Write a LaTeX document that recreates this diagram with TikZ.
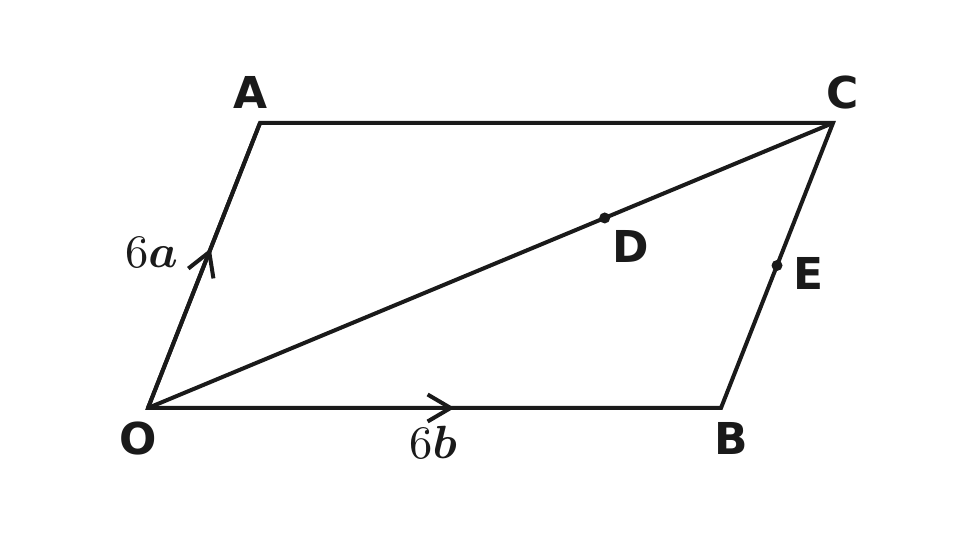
\documentclass[tikz,border=0pt]{standalone}
\usepackage{amsmath}
\usepackage{bm}
\usepackage{fontspec}
\newfontfamily\labelfont{DejaVu Sans}
\usetikzlibrary{arrows.meta,decorations.markings,calc}
\definecolor{ink}{HTML}{1A1A1A}

\begin{document}
\begin{tikzpicture}[line width=0.08cm, color=ink,
        side/.style={line join=miter},
        midarrow/.style={postaction={decorate,decoration={markings,
            mark=at position #1 with {\arrow{Straight Barb[length=4.6mm,width=5.4mm,line width=0.08cm]}}}}},
        vertex/.style={font=\labelfont\bfseries\fontsize{25}{30}\selectfont, inner sep=0pt},
        vec/.style={font=\fontsize{10}{12}\selectfont, inner sep=0pt, scale=2.65}]
        \useasboundingbox (0,0) rectangle (19.52,10.98);

        % Points
        \coordinate (O) at (2.96,2.82);
        \coordinate (A) at (5.20,8.52);
        \coordinate (C) at (16.66,8.52);
        \coordinate (B) at (14.42,2.82);
        \coordinate (D) at ($(O)!0.6667!(C)$);
        \coordinate (E) at ($(B)!0.5!(C)$);

        % Parallelogram and diagonal
        \draw[side] (O) -- (A) -- (C) -- (B) -- cycle;
        \draw (O) -- (C);
        \draw[midarrow=0.56] (O) -- (A);
        \draw[midarrow=0.535] (O) -- (B);

        % Dots
        \fill (D) circle (0.11);
        \fill (E) circle (0.11);

        % Labels
        \node[vertex] (lA) at (5.00,9.14) {A};
        \node[vertex] (lC) at (16.86,9.12) {C};
        \node[vertex] (lO) at (2.76,2.20) {O};
        \node[vertex] (lB) at (14.62,2.22) {B};
        \node[vertex] (lD) at (12.62,6.06) {D};
        \node[vertex] (lE) at (16.16,5.52) {E};
        \node[vec] (la) at (3.03,5.92) {$6\boldsymbol{a}$};
        \node[vec] (lb) at (8.66,2.14) {$6\boldsymbol{b}$};
    \end{tikzpicture}
\end{document}
